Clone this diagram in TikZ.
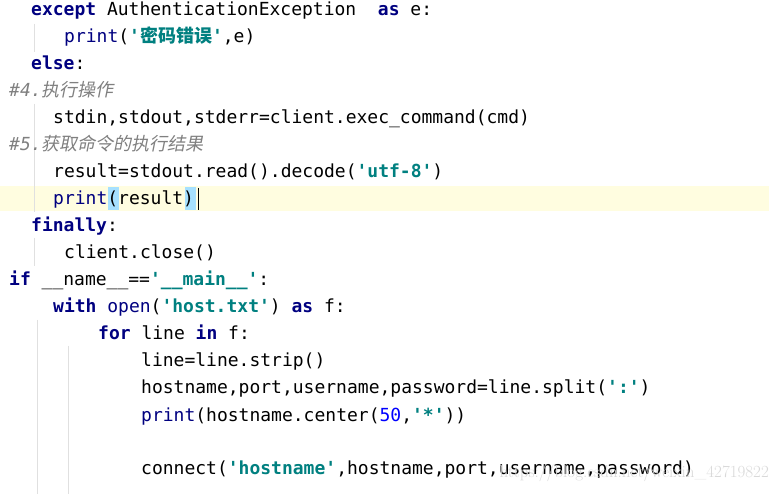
\documentclass[tikz,border=0pt]{standalone}
\usepackage{fontspec}
\newfontfamily\code{DejaVu Sans Mono}
\newfontfamily\cjk{Noto Sans CJK SC}
\newfontfamily\cjki[FakeSlant=0.2]{Noto Sans CJK SC}
\definecolor{kwc}{HTML}{000080}
\definecolor{stc}{HTML}{008080}
\definecolor{nmc}{HTML}{0000FF}
\definecolor{cmc}{HTML}{808080}
\newcommand\kw[1]{{\color{kwc}\bfseries #1}}
\newcommand\bi[1]{{\color{kwc}#1}}
\newcommand\st[1]{{\color{stc}\bfseries #1}}
\newcommand\nm[1]{{\color{nmc}#1}}
\newcommand\cm[1]{{\color{cmc}\itshape #1}}
\begin{document}
\begin{tikzpicture}[x=1pt,y=-1pt,
  ln/.style={anchor=base west,inner sep=0pt,font=\code\fontsize{18}{20}\selectfont,text=black},
  guide/.style={draw=black!12,line width=0.8pt}]
\useasboundingbox (0,0) rectangle (769,494);
\fill[white] (0,0) rectangle (769,494);
\fill[yellow!12!white] (0,186) rectangle (769,211);
\fill[blue!35!cyan!35] (108,187) rectangle (119,210);
\fill[blue!35!cyan!35] (185,187) rectangle (196,210);
\draw[guide] (34,24) -- (34,52);
\draw[guide] (34,104) -- (34,212);
\draw[guide] (34,238) -- (34,266);
\draw[guide] (37,320) -- (37,494);
\draw[guide] (68,346) -- (68,494);
\node[ln] (l1) at (31,16) {\kw{except} AuthenticationException\ \ \kw{as} e:};
\node[ln] (l2) at (64,43) {\bi{print}(\st{'{\cjk 密码错误}'},e)};
\node[ln] (l3) at (31,70) {\kw{else}:};
\node[ln] (l4) at (9,97) {\cm{\#4.{\cjki 执行操作}}};
\node[ln] (l5) at (53,124) {stdin,stdout,stderr=client.exec\_command(cmd)};
\node[ln] (l6) at (9,151) {\cm{\#5.{\cjki 获取命令的执行结果}}};
\node[ln] (l7) at (53,178) {result=stdout.read().decode(\st{'utf-8'})};
\node[ln] (l8) at (53,205) {\bi{print}(result)};
\draw[black,line width=1pt] (198,188) -- (198,210);
\node[ln] (l9) at (31,232) {\kw{finally}:};
\node[ln] (l10) at (64,259) {client.close()};
\node[ln] (l11) at (9,286) {\kw{if} \_\_name\_\_==\st{'\_\_main\_\_'}:};
\node[ln] (l12) at (53,313) {\kw{with} \bi{open}(\st{'host.txt'}) \kw{as} f:};
\node[ln] (l13) at (98,340) {\kw{for} line \kw{in} f:};
\node[ln] (l14) at (141,367) {line=line.strip()};
\node[ln] (l15) at (141,394) {hostname,port,username,password=line.split(\st{':'})};
\node[ln] (l16) at (141,421) {\bi{print}(hostname.center(\nm{50},\st{'*'}))};
\node[ln] (l17) at (141,475) {connect(\st{'hostname'},hostname,port,username,password)};
\node[anchor=base east,inner sep=0pt,font=\fontsize{17}{18}\selectfont,text=black!15] (wm) at (769,478) {https://blog.csdn.net/weixin\_42719822};
\end{tikzpicture}
\end{document}
